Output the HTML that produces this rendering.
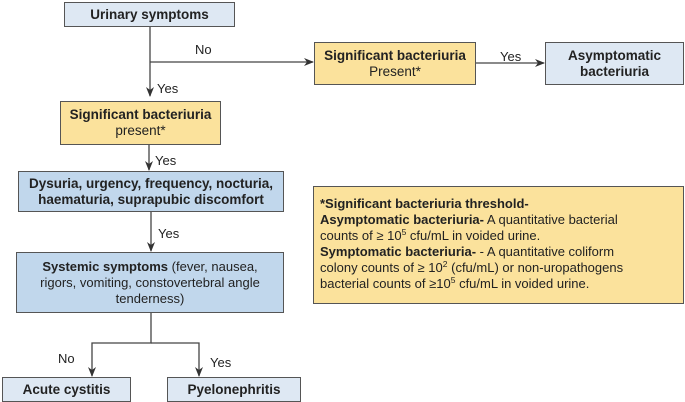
<!DOCTYPE html>
<html><head><style>
body{margin:0;width:685px;height:402px;background:#fff;position:relative;font-family:"Liberation Sans",Arial,sans-serif;color:#222;overflow:hidden}
.b{position:absolute;box-sizing:border-box;border:1.3px solid #555;display:flex;flex-direction:column;justify-content:center;align-items:center;text-align:center;font-size:13.5px;line-height:16px}
.lb{background:#dee8f3}.mb{background:#c1d7ec}.y{background:#fbe29c}
b{font-weight:bold}
.t{position:absolute;font-size:13px}
sup{font-size:8.5px;line-height:0;vertical-align:0;position:relative;top:-5px}
</style></head><body>
<svg width="685" height="402" style="position:absolute;left:0;top:0">
<defs><marker id="a" markerWidth="10" markerHeight="8" refX="9" refY="4" orient="auto" markerUnits="userSpaceOnUse"><path d="M0,0 L10,4 L0,8 L3,4z" fill="#333"/></marker></defs>
<g stroke="#444" stroke-width="1.3" fill="none">
<path d="M150,26 V96" marker-end="url(#a)"/>
<path d="M150,62 H313" marker-end="url(#a)"/>
<path d="M476,63 H544" marker-end="url(#a)"/>
<path d="M149,144 V170" marker-end="url(#a)"/>
<path d="M151,211 V251" marker-end="url(#a)"/>
<path d="M151,312 V343 H92 V376" marker-end="url(#a)"/>
<path d="M151,343 H199 V376" marker-end="url(#a)"/>
</g></svg>
<div class="b lb" style="left:64px;top:2px;width:171px;height:25px"><b>Urinary symptoms</b></div>
<div class="t" style="left:195px;top:42px">No</div>
<div class="t" style="left:157px;top:81px">Yes</div>
<div class="b y" style="left:60px;top:101px;width:161px;height:44px"><b>Significant bacteriuria</b>present*</div>
<div class="t" style="left:155px;top:153px">Yes</div>
<div class="b y" style="left:314px;top:42px;width:162px;height:43px"><b>Significant bacteriuria</b>Present*</div>
<div class="t" style="left:500px;top:49px">Yes</div>
<div class="b lb" style="left:545px;top:42px;width:139px;height:43px"><b>Asymptomatic<br>bacteriuria</b></div>
<div class="b mb" style="left:18px;top:171px;width:266px;height:41px"><b>Dysuria, urgency, frequency, nocturia,<br>haematuria, suprapubic discomfort</b></div>
<div class="t" style="left:158px;top:226px">Yes</div>
<div class="b mb" style="left:16px;top:252px;width:268px;height:61px;font-size:13px"><span><b>Systemic symptoms</b> (fever, nausea,<br>rigors, vomiting, constovertebral angle<br>tenderness)</span></div>
<div class="t" style="left:58px;top:351px">No</div>
<div class="t" style="left:210px;top:355px">Yes</div>
<div class="b lb" style="left:2px;top:377px;width:129px;height:25px"><b>Acute cystitis</b></div>
<div class="b lb" style="left:167px;top:377px;width:134px;height:25px"><b>Pyelonephritis</b></div>
<div class="b y" style="left:313px;top:186px;width:371px;height:118px;align-items:flex-start;justify-content:flex-start;text-align:left;font-size:13px;line-height:16px;padding:9px 0 0 6px">
<div><b>*Significant bacteriuria threshold-</b><br><b>Asymptomatic bacteriuria-</b> A quantitative bacterial<br>counts of ≥ 10<sup>5</sup> cfu/mL in voided urine.<br><b>Symptomatic bacteriuria-</b> - A quantitative coliform<br>colony counts of ≥ 10<sup>2</sup> (cfu/mL) or non-uropathogens<br>bacterial counts of ≥10<sup>5</sup> cfu/mL in voided urine.</div></div>
</body></html>
